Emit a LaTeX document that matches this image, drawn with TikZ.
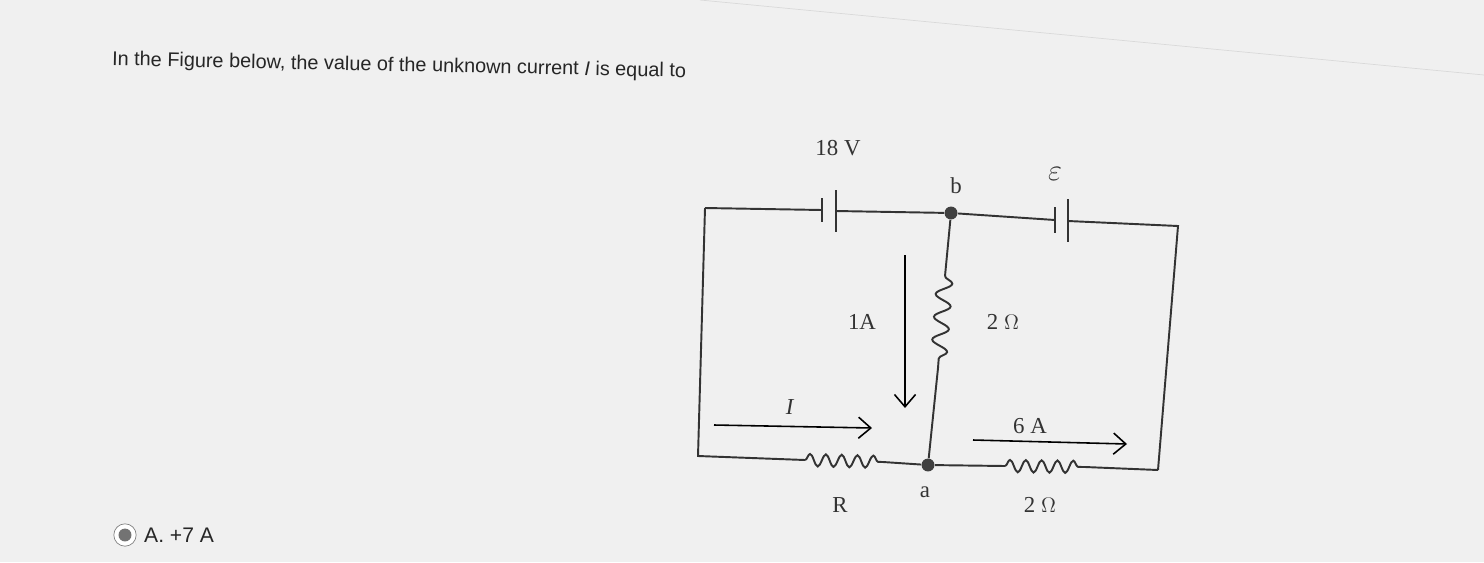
\documentclass[tikz,border=0pt]{standalone}
\usepackage{fontspec}
\setmainfont{Liberation Serif}
\newfontfamily\sans{Liberation Sans}
\usetikzlibrary{decorations.pathmorphing,arrows.meta}
\begin{document}
\begin{tikzpicture}[x=0.02cm,y=-0.02cm,
 wire/.style={line width=1.1pt,draw=black!80},
 zig/.style={wire,decorate,decoration={snake,amplitude=3.5pt,segment length=9pt}},
 zigv/.style={wire,decorate,decoration={snake,amplitude=4.5pt,segment length=13pt}},
 cur/.style={line width=0.9pt,-{Straight Barb[length=7pt,width=12pt]}},
 lbl/.style={font=\fontsize{13}{15}\selectfont,text=black!80},
 dot/.style={circle,fill=black!75,inner sep=2.6pt}]
\fill[black!6] (0,0) rectangle (1484,562);
\useasboundingbox (0,0) rectangle (1484,562);
\draw[black!15] (700,0) -- (1484,75);
\node[anchor=west,font=\sans\fontsize{11.3}{14}\selectfont,text=black!85,rotate=-1.2] (q) at (106,60) {In the Figure below, the value of the unknown current \textit{I} is equal to};
% nodes
\node[dot] (b) at (951,213) {};
\node[dot] (a) at (928,465) {};
\coordinate (tl) at (705,208);
\coordinate (bl) at (698,456);
\coordinate (tr) at (1178,226);
\coordinate (br) at (1158,470);
% top left branch with 18V battery
\coordinate (p1) at (822,210); \coordinate (p2) at (836,211);
\draw[wire] (tl) -- (p1) (p2) -- (b);
\draw[wire] (822,198) -- (822,222);
\draw[wire] (836,190) -- (836,232);
% top right branch
\coordinate (e1) at (1055,220); \coordinate (e2) at (1068,221);
\draw[wire] (b) -- (e1) (e2) -- (tr) -- (br);
\draw[wire] (1055,207) -- (1055,233);
\draw[wire] (1068,199) -- (1068,242);
% left side
\draw[wire] (tl) -- (bl) -- (805,460);
\draw[zig] (805,460) -- (883,462);
\draw[wire] (883,462) -- (a);
% middle
\draw[wire] (b) -- (945,276);
\draw[zigv] (945,276) -- (938,368);
\draw[wire] (938,368) -- (a);
% bottom right
\draw[wire] (a) -- (1005,466);
\draw[zig] (1005,466) -- (1085,467);
\draw[wire] (1085,467) -- (br);
% current arrows
\draw[cur] (714,425) -- (872,428);
\draw[cur] (905,255) -- (905,408);
\draw[cur] (973,440) -- (1127,444);
% labels
\node[lbl] (l18) at (838,148) {18 V};
\node[lbl] (lb) at (956,186) {b};
\node[lbl,font=\fontsize{17}{19}\selectfont] (le) at (1055,174) {$\varepsilon$};
\node[lbl] (l1A) at (862,322) {1A};
\node[lbl] (l2a) at (1003,322) {2 $\Omega$};
\node[lbl] (lI) at (790,407) {\textit{I}};
\node[lbl] (l6A) at (1030,426) {6 A};
\node[lbl] (lR) at (840,505) {R};
\node[lbl] (la) at (925,492) {a};
\node[lbl] (l2b) at (1040,505) {2 $\Omega$};
% answer
\node[circle,draw=black!50,fill=white,inner sep=4.5pt] (r) at (125,535) {};
\node[circle,fill=black!55,inner sep=2.6pt] at (r) {};
\node[anchor=west,font=\sans\fontsize{12}{14}\selectfont,text=black!85] (ans) at (138,535) {A. +7 A};
\end{tikzpicture}
\end{document}
